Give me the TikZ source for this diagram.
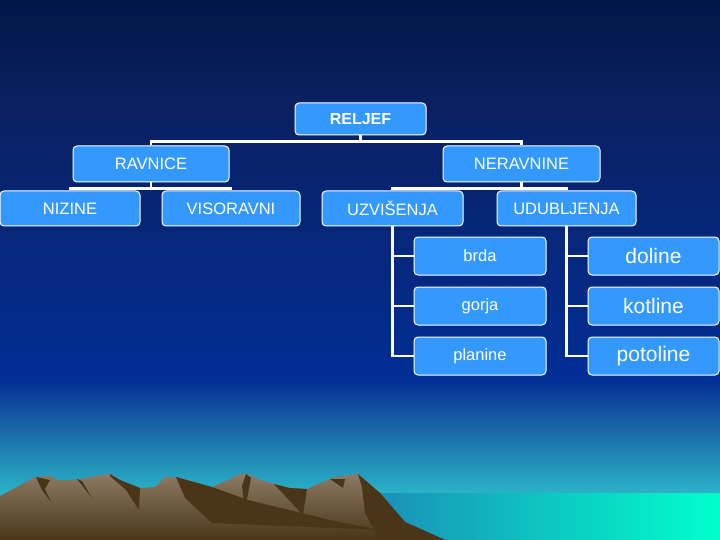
\documentclass[tikz,border=0pt]{standalone}
\usepackage{fontspec}
\setmainfont{Liberation Sans}
\definecolor{bxfill}{HTML}{3399FF}
\definecolor{rockdk}{HTML}{4A3518}
\definecolor{rocklt}{HTML}{8C7A63}
\definecolor{seaA}{HTML}{00FFCC}
\definecolor{seaB}{HTML}{1A90B8}
\definecolor{bga}{HTML}{3CC2CC}
\definecolor{bgb}{HTML}{2AAFC6}
\definecolor{bgc}{HTML}{1A6AA8}
\definecolor{bgd}{HTML}{022E96}
\definecolor{bge}{HTML}{0A2060}
\definecolor{bgf}{HTML}{011646}
\tikzset{
  bx/.style={draw=white, line width=1pt, fill=bxfill, rounded corners=4pt, text=white, inner sep=0pt},
  cn/.style={draw=white, line width=2.5pt},
}
\begin{document}
\begin{tikzpicture}[x=1pt,y=-1pt]
\useasboundingbox (0,0) rectangle (720,540);
\shade[top color=bgf, bottom color=bge] (0,0) rectangle (720,100.5);
\shade[top color=bge, bottom color=bgd] (0,100) rectangle (720,380.5);
\shade[top color=bgd, bottom color=bgc] (0,380) rectangle (720,430.5);
\shade[top color=bgc, bottom color=bgb] (0,430) rectangle (720,490.5);
\shade[top color=bgb, bottom color=bga] (0,490) rectangle (720,540);
% sea
\shade[left color=seaB, right color=seaA] (380,493) rectangle (720,540);
% mountains
\shade[top color=rocklt, bottom color=rockdk] (0,496) -- (35,477) -- (50,476) -- (58,480) -- (68,480) -- (80,479) -- (100,475) -- (110,474) -- (120,480) -- (140,488) -- (155,487) -- (165,477) -- (177,477) -- (212,487) -- (228,480) -- (240,474) -- (248,474) -- (260,480) -- (275,484) -- (290,488) -- (307,489) -- (320,483) -- (335,477) -- (358,474) -- (380,493) -- (405,522) -- (445,540) -- (0,540) -- cycle;
\fill[rockdk] (36,477) -- (50,480) -- (45,489) -- (51,502) -- (42,490) -- cycle;
\fill[rockdk] (77,479) -- (92,498) -- (82,481) -- cycle;
\fill[rockdk] (110,474) -- (120,480) -- (140,488) -- (139,510) -- (126,490) -- (110,476) -- cycle;
\fill[rockdk] (176,477) -- (212,487) -- (248,500) -- (330,520) -- (380,530) -- (212,523) -- (185,498) -- cycle;
\fill[rockdk] (246,474) -- (251,478) -- (245,510) -- (242,486) -- cycle;
\fill[rockdk] (274,484) -- (290,488) -- (307,489) -- (303,515) -- cycle;
\fill[rockdk] (358,474) -- (380,493) -- (405,522) -- (445,540) -- (380,540) -- (365,513) -- (362,487) -- cycle;
\fill[rockdk] (330,479) -- (345,479) -- (343,488) -- cycle;
% boxes
\node[bx, minimum width=131, minimum height=32, font=\bfseries\fontsize{16}{18}\selectfont] (rel) at (360.5,119) {RELJEF};
\node[bx, minimum width=156, minimum height=36, font=\fontsize{16.5}{18}\selectfont] (rav) at (151,164) {RAVNICE};
\node[bx, minimum width=157, minimum height=36, font=\fontsize{16.5}{18}\selectfont] (ner) at (521.5,164) {NERAVNINE};
\node[bx, minimum width=140, minimum height=35, font=\fontsize{16.5}{18}\selectfont] (niz) at (70,208.5) {NIZINE};
\node[bx, minimum width=138, minimum height=35, font=\fontsize{16.5}{18}\selectfont] (vis) at (231,208.5) {VISORAVNI};
\node[bx, minimum width=141, minimum height=35, font=\fontsize{16.5}{18}\selectfont] (uzv) at (392.5,208.5) {UZVIŠENJA};
\node[bx, minimum width=139, minimum height=35, font=\fontsize{16.5}{18}\selectfont] (udu) at (566.5,208.5) {UDUBLJENJA};
\node[bx, minimum width=132, minimum height=38, font=\fontsize{16.5}{18}\selectfont] (brda) at (480,256) {brda};
\node[bx, minimum width=132, minimum height=38, font=\fontsize{16.5}{18}\selectfont] (gorja) at (480,306) {gorja};
\node[bx, minimum width=132, minimum height=38, font=\fontsize{16.5}{18}\selectfont] (plan) at (480,356) {planine};
\node[bx, minimum width=131, minimum height=38, font=\fontsize{21}{24}\selectfont] (dol) at (653.5,256) {doline};
\node[bx, minimum width=131, minimum height=38, font=\fontsize{21}{24}\selectfont] (kot) at (653.5,306) {kotline};
\node[bx, minimum width=131, minimum height=38, font=\fontsize{21}{24}\selectfont] (pot) at (653.5,356) {potoline};
% connectors
\draw[cn] (rel.south) -- ++(0,6) -| (rav.north);
\draw[cn] (rel.south) -- ++(0,6) -| (ner.north);
\draw[cn] (rav.south) -- ++(0,6) -| (niz.north);
\draw[cn] (rav.south) -- ++(0,6) -| (vis.north);
\draw[cn] (ner.south) -- ++(0,6) -| (uzv.north);
\draw[cn] (ner.south) -- ++(0,6) -| (udu.north);
\draw[cn] (uzv.south) |- (plan.west);
\draw[cn] (uzv.south |- brda.west) -- (brda.west);
\draw[cn] (uzv.south |- gorja.west) -- (gorja.west);
\draw[cn] (udu.south) |- (pot.west);
\draw[cn] (udu.south |- dol.west) -- (dol.west);
\draw[cn] (udu.south |- kot.west) -- (kot.west);
\end{tikzpicture}
\end{document}
